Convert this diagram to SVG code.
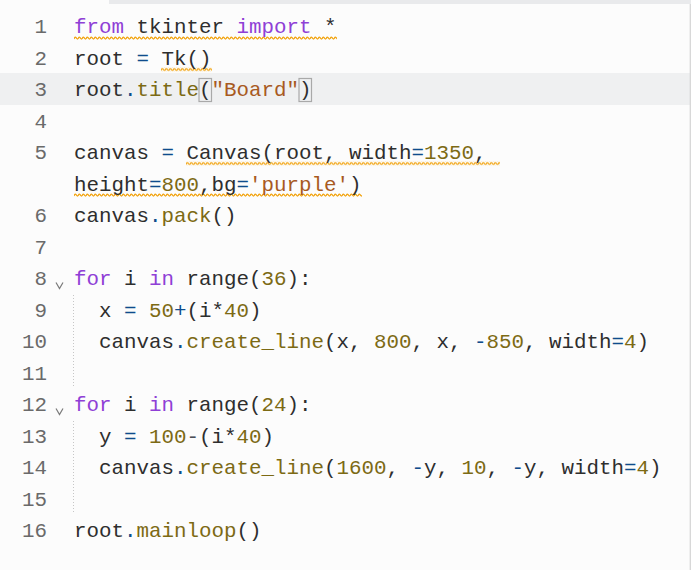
<svg xmlns="http://www.w3.org/2000/svg" width="691" height="570" viewBox="0 0 691 570">
<style>
text{font-family:"Liberation Mono","DejaVu Sans Mono",monospace;font-size:20.83px;fill:#2e2e2e;white-space:pre}
.ln{fill:#6a6a6a;text-anchor:end}
.kw{fill:#8f3fd6}
.op{fill:#0f4c8c}
.fn{fill:#7c6a14}
.st{fill:#a85a1f}
.dk{fill:#4a4f57}
.guide{stroke:#c6c6c6;stroke-width:1;stroke-dasharray:1 2}
.fold{fill:none;stroke:#7a7a7a;stroke-width:1.2}
.pbox{fill:none;stroke:#a9a9a9;stroke-width:1.2}
</style>
<defs>
<pattern id="wave" width="4" height="4" patternUnits="userSpaceOnUse">
<path d="M0,3 Q1,0.2 2,1.6 T4,3" fill="none" stroke="#f2a20c" stroke-width="1.25"/>
</pattern>
</defs>
<rect width="691" height="570" fill="#fcfcfc"/>
<rect x="109" y="0" width="582" height="4" fill="#e9eaec"/>
<rect x="0" y="73" width="690" height="32" fill="#eff0f1"/>
<line x1="690.3" y1="4" x2="690.3" y2="570" stroke="#d6d6d6" stroke-width="1.3"/>

<g id="gutter">
<text class="ln" x="47" y="33">1</text>
<text class="ln" x="47" y="64.5">2</text>
<text class="ln" x="47" y="96">3</text>
<text class="ln" x="47" y="127.5">4</text>
<text class="ln" x="47" y="159">5</text>
<text class="ln" x="47" y="222">6</text>
<text class="ln" x="47" y="253.5">7</text>
<text class="ln" x="47" y="285">8</text>
<text class="ln" x="47" y="316.5">9</text>
<text class="ln" x="47" y="348">10</text>
<text class="ln" x="47" y="379.5">11</text>
<text class="ln" x="47" y="411">12</text>
<text class="ln" x="47" y="442.5">13</text>
<text class="ln" x="47" y="474">14</text>
<text class="ln" x="47" y="505.5">15</text>
<text class="ln" x="47" y="537">16</text>
<polyline class="fold" points="56,282.5 59.5,288.5 63,282.5"/>
<polyline class="fold" points="56,408.5 59.5,414.5 63,408.5"/>
</g>

<g id="guides">
<line class="guide" x1="73.5" y1="295" x2="73.5" y2="388"/>
<line class="guide" x1="73.5" y1="421" x2="73.5" y2="513"/>
</g>

<g id="squiggles">
<rect transform="translate(74,36)" width="263" height="4" fill="url(#wave)"/>
<rect transform="translate(161,67.5)" width="51" height="4" fill="url(#wave)"/>
<rect transform="translate(186,161.5)" width="314" height="4" fill="url(#wave)"/>
<rect transform="translate(74,193)" width="288" height="4" fill="url(#wave)"/>
</g>

<g id="brackets">
<rect class="pbox" x="199" y="78.5" width="12.5" height="23"/>
<rect class="pbox" x="299" y="78.5" width="12.5" height="23"/>
</g>

<g id="code">
<text x="74" y="33"><tspan class="kw">from</tspan> tkinter <tspan class="kw">import</tspan> *</text>
<text x="74" y="64.5">root <tspan class="op">=</tspan> Tk()</text>
<text x="74" y="96">root<tspan class="op">.</tspan><tspan class="fn">title</tspan>(<tspan class="st">"Board"</tspan>)</text>
<text x="74" y="159">canvas <tspan class="op">=</tspan> Canvas(root, width<tspan class="op">=</tspan><tspan class="fn">1350</tspan>,</text>
<text x="74" y="190.5">height<tspan class="op">=</tspan><tspan class="fn">800</tspan>,bg<tspan class="op">=</tspan><tspan class="st">'purple'</tspan>)</text>
<text x="74" y="222">canvas<tspan class="op">.</tspan><tspan class="fn">pack</tspan>()</text>
<text x="74" y="285"><tspan class="kw">for</tspan> i <tspan class="kw">in</tspan> range(<tspan class="fn">36</tspan>):</text>
<text x="99" y="316.5">x <tspan class="op">=</tspan> <tspan class="fn">50</tspan><tspan class="op">+</tspan>(i*<tspan class="fn">40</tspan>)</text>
<text x="99" y="348">canvas<tspan class="op">.</tspan><tspan class="fn">create_line</tspan>(x, <tspan class="fn">800</tspan>, x, <tspan class="op">-</tspan><tspan class="fn">850</tspan>, width<tspan class="op">=</tspan><tspan class="fn">4</tspan>)</text>
<text x="74" y="411"><tspan class="kw">for</tspan> i <tspan class="kw">in</tspan> range(<tspan class="fn">24</tspan>):</text>
<text x="99" y="442.5">y <tspan class="op">=</tspan> <tspan class="fn">100</tspan><tspan class="dk">-</tspan>(i*<tspan class="fn">40</tspan>)</text>
<text x="99" y="474">canvas<tspan class="op">.</tspan><tspan class="fn">create_line</tspan>(<tspan class="fn">1600</tspan>, <tspan class="op">-</tspan>y, <tspan class="fn">10</tspan>, <tspan class="op">-</tspan>y, width<tspan class="op">=</tspan><tspan class="fn">4</tspan>)</text>
<text x="74" y="537">root<tspan class="op">.</tspan><tspan class="fn">mainloop</tspan>()</text>
</g>
</svg>
